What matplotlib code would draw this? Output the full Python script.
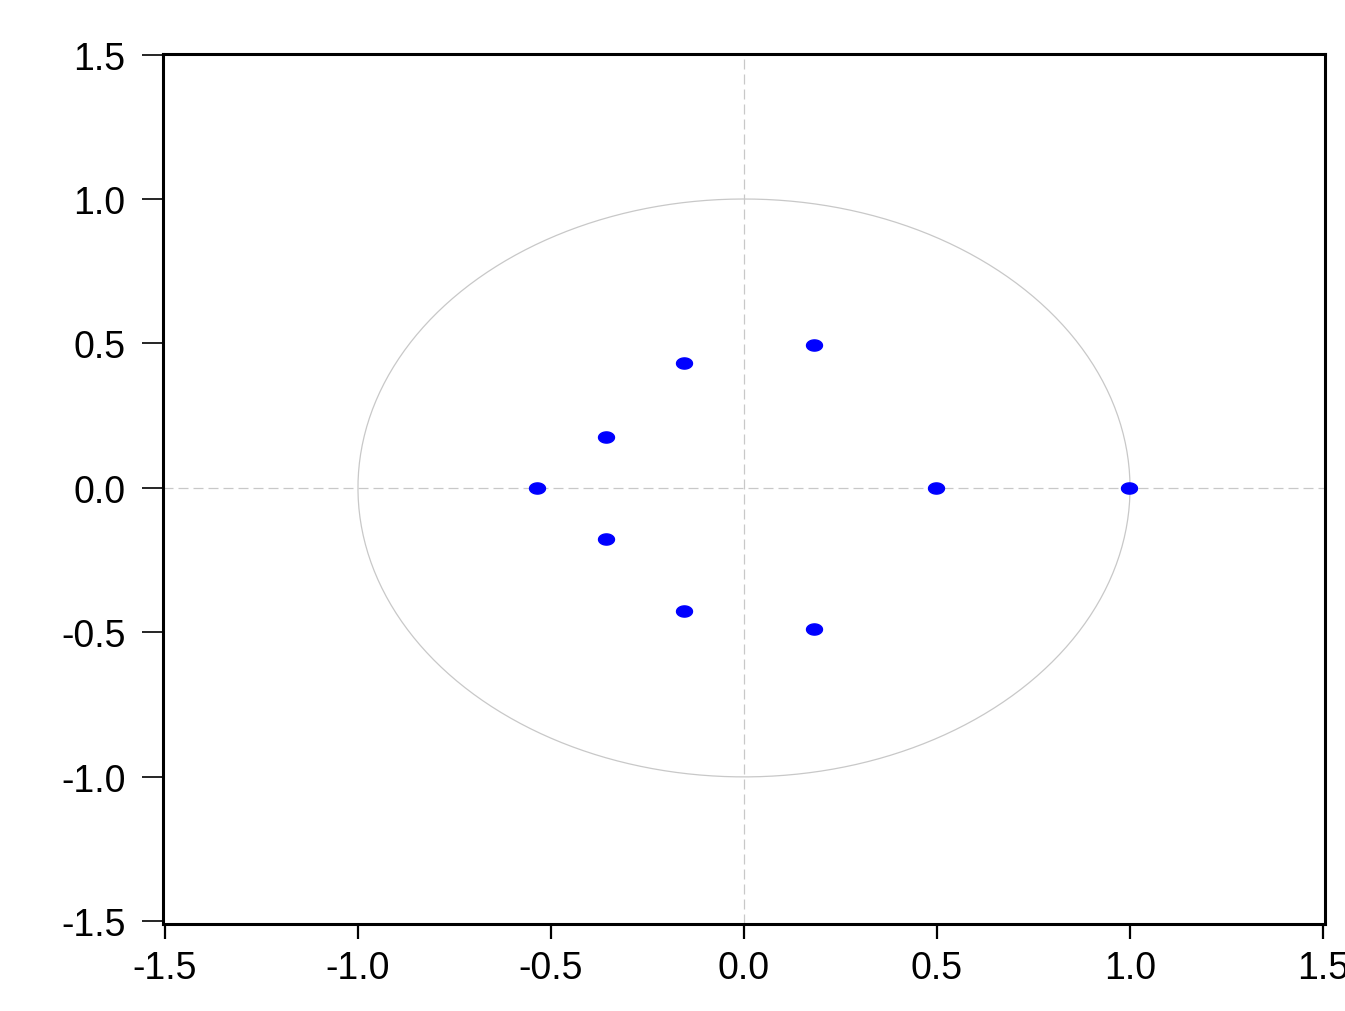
import numpy as np
import matplotlib.pyplot as plt
from matplotlib.path import Path

root_re = [-0.535, -0.357, -0.357, -0.155, -0.155, 0.181, 0.181, 0.497, 0.997]
root_im = [0.0, 0.178, -0.175, 0.432, -0.426, 0.493, -0.487, 0.0, 0.0]

ticks = [-1.5, -1.0, -0.5, 0.0, 0.5, 1.0, 1.5]
tick_labels = ["-1.5", "-1.0", "-0.5", "0.0", "0.5", "1.0", "1.5"]

plt.rcParams['font.family'] = ['Liberation Sans', 'DejaVu Sans']

fig = plt.figure(figsize=(13.45, 10.12), dpi=100)
ax = fig.add_axes([0.1212, 0.086, 0.8639, 0.8597])

# unit circle and reference lines
theta = np.linspace(0, 2 * np.pi, 400)
ax.plot(np.cos(theta), np.sin(theta), color='#c8c8c8', lw=0.9, zorder=1)
ax.axhline(0, color='#c8c8c8', lw=0.9, ls=(0, (8, 4)), zorder=1)
ax.axvline(0, color='#c8c8c8', lw=0.9, ls=(0, (8, 4)), zorder=1)

# slightly flattened dots
t = np.linspace(0, 2 * np.pi, 40)
ell = Path(np.column_stack([np.cos(t), 0.7 * np.sin(t)]), closed=True)
ax.plot(root_re, root_im, ls='none', marker=ell, ms=11.5, color='#0000ff', zorder=3)

ax.set_xlim(-1.505, 1.505)
ax.set_ylim(-1.509, 1.502)
ax.set_xticks(ticks)
ax.set_xticklabels(tick_labels)
ax.set_yticks(ticks)
ax.set_yticklabels(tick_labels)

for s in ax.spines.values():
    s.set_linewidth(2.2)
ax.tick_params(axis='y', direction='out', length=15, width=1.2, pad=12, labelsize=27)
ax.tick_params(axis='x', direction='out', length=11, width=1.6, pad=8, labelsize=27)

fig.savefig('out.png', dpi=100)
